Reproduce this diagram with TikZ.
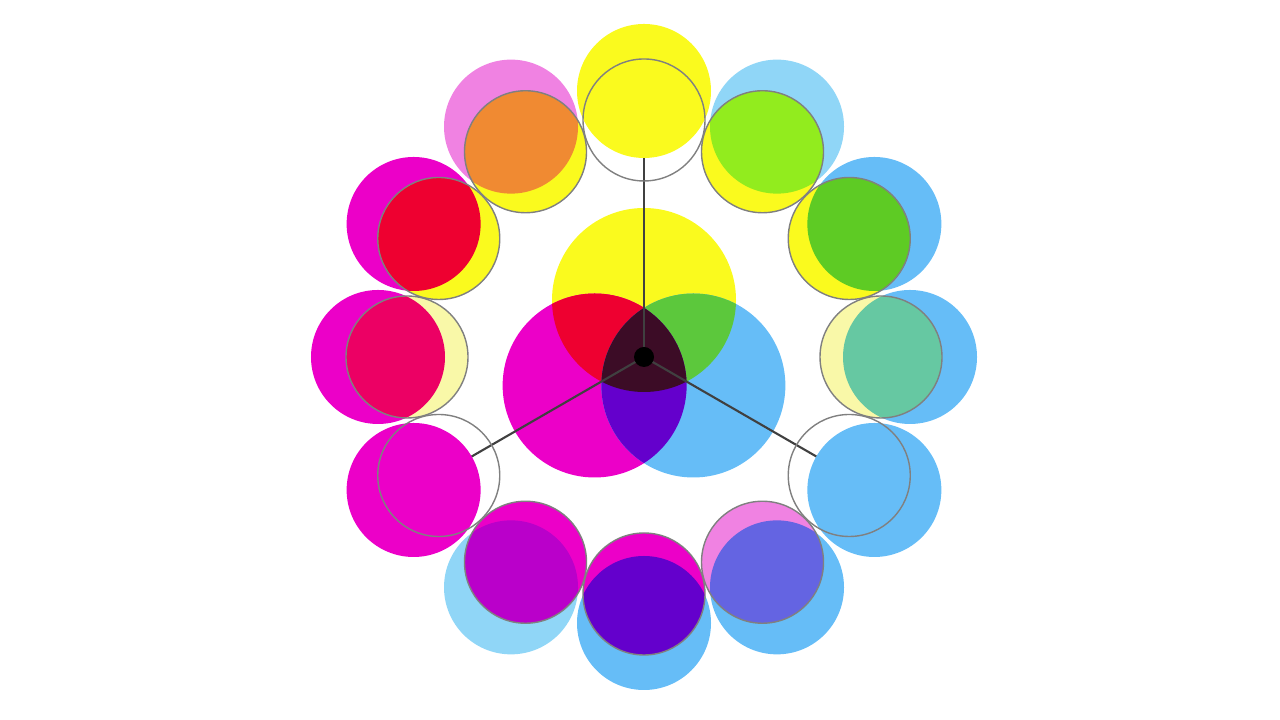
\documentclass[tikz,border=0pt]{standalone}
\usetikzlibrary{
	math,
	% calc,
	% positioning,
}
% primaries and their pale versions
\definecolor{yel}{HTML}{FAFA1E}
\definecolor{yelL}{HTML}{F9F8A8}
\definecolor{mag}{HTML}{EC00C8}
\definecolor{magL}{HTML}{F082E2}
\definecolor{cyn}{HTML}{66BDF7}
\definecolor{cynL}{HTML}{90D6F7}
% mixtures
\definecolor{mixYG}{HTML}{92EC1E}
\definecolor{mixG}{HTML}{5ECB24}
\definecolor{mixT}{HTML}{66C8A2}
\definecolor{mixBV}{HTML}{6464E2}
\definecolor{mixV}{HTML}{6400CC}
\definecolor{mixP}{HTML}{BA00CA}
\definecolor{mixCr}{HTML}{EC0064}
\definecolor{mixR}{HTML}{EE0030}
\definecolor{mixO}{HTML}{F08A32}
\definecolor{mixGc}{HTML}{5CC83C}
\definecolor{mixAll}{HTML}{3C0C26}

\tikzstyle{rim} = [draw=black!50, line width=0.4pt]
\tikzstyle{spoke} = [draw=black!75, line width=0.6pt]

\begin{document}
\begin{tikzpicture}
	\useasboundingbox (-6.44,-3.63) rectangle (6.36,3.57);

	% three primaries in the middle
	\coordinate (O) at (0,0);
	\coordinate (Y) at (90:0.57);
	\coordinate (M) at (210:0.57);
	\coordinate (C) at (330:0.57);
	\fill[yel] (Y) circle (0.92);
	\fill[mag] (M) circle (0.92);
	\fill[cyn] (C) circle (0.92);
	\begin{scope}
		\clip (Y) circle (0.92);
		\fill[mixR] (M) circle (0.92);
		\fill[mixGc] (C) circle (0.92);
	\end{scope}
	\begin{scope}
		\clip (M) circle (0.92);
		\fill[mixV] (C) circle (0.92);
		\clip (C) circle (0.92);
		\fill[mixAll] (Y) circle (0.92);
	\end{scope}

	% spokes
	\foreach \a in {90,210,330} {
			\coordinate (tip\a) at (\a:2.0);
			\draw[spoke] (O) -- (tip\a);
		}
	\node[circle, fill=black, inner sep=0pt, minimum size=2mm] (hub) at (O) {};

	% ring of twelve hues
	\foreach \ang/\outc/\inc/\mixc [count=\i] in {
			90/yel/none/none, 60/cynL/yel/mixYG, 30/cyn/yel/mixG,
			0/cyn/yelL/mixT, -30/cyn/none/none, -60/cyn/magL/mixBV,
			-90/cyn/mag/mixV, -120/cynL/mag/mixP, -150/mag/none/none,
			180/mag/yelL/mixCr, 150/mag/yel/mixR, 120/magL/yel/mixO} {
			\coordinate (in\i) at (\ang:2.37);
			\coordinate (out\i) at (\ang:2.66);
			\fill[fill=\outc] (out\i) circle (0.67);
			\fill[fill=\inc] (in\i) circle (0.61);
			\begin{scope}
				\clip (in\i) circle (0.61);
				\fill[fill=\mixc] (out\i) circle (0.67);
			\end{scope}
		}

	% thin outlines on top
	\foreach \i in {1,...,12} {
			\draw[rim] (in\i) circle (0.61);
		}

\end{tikzpicture}
\end{document}
